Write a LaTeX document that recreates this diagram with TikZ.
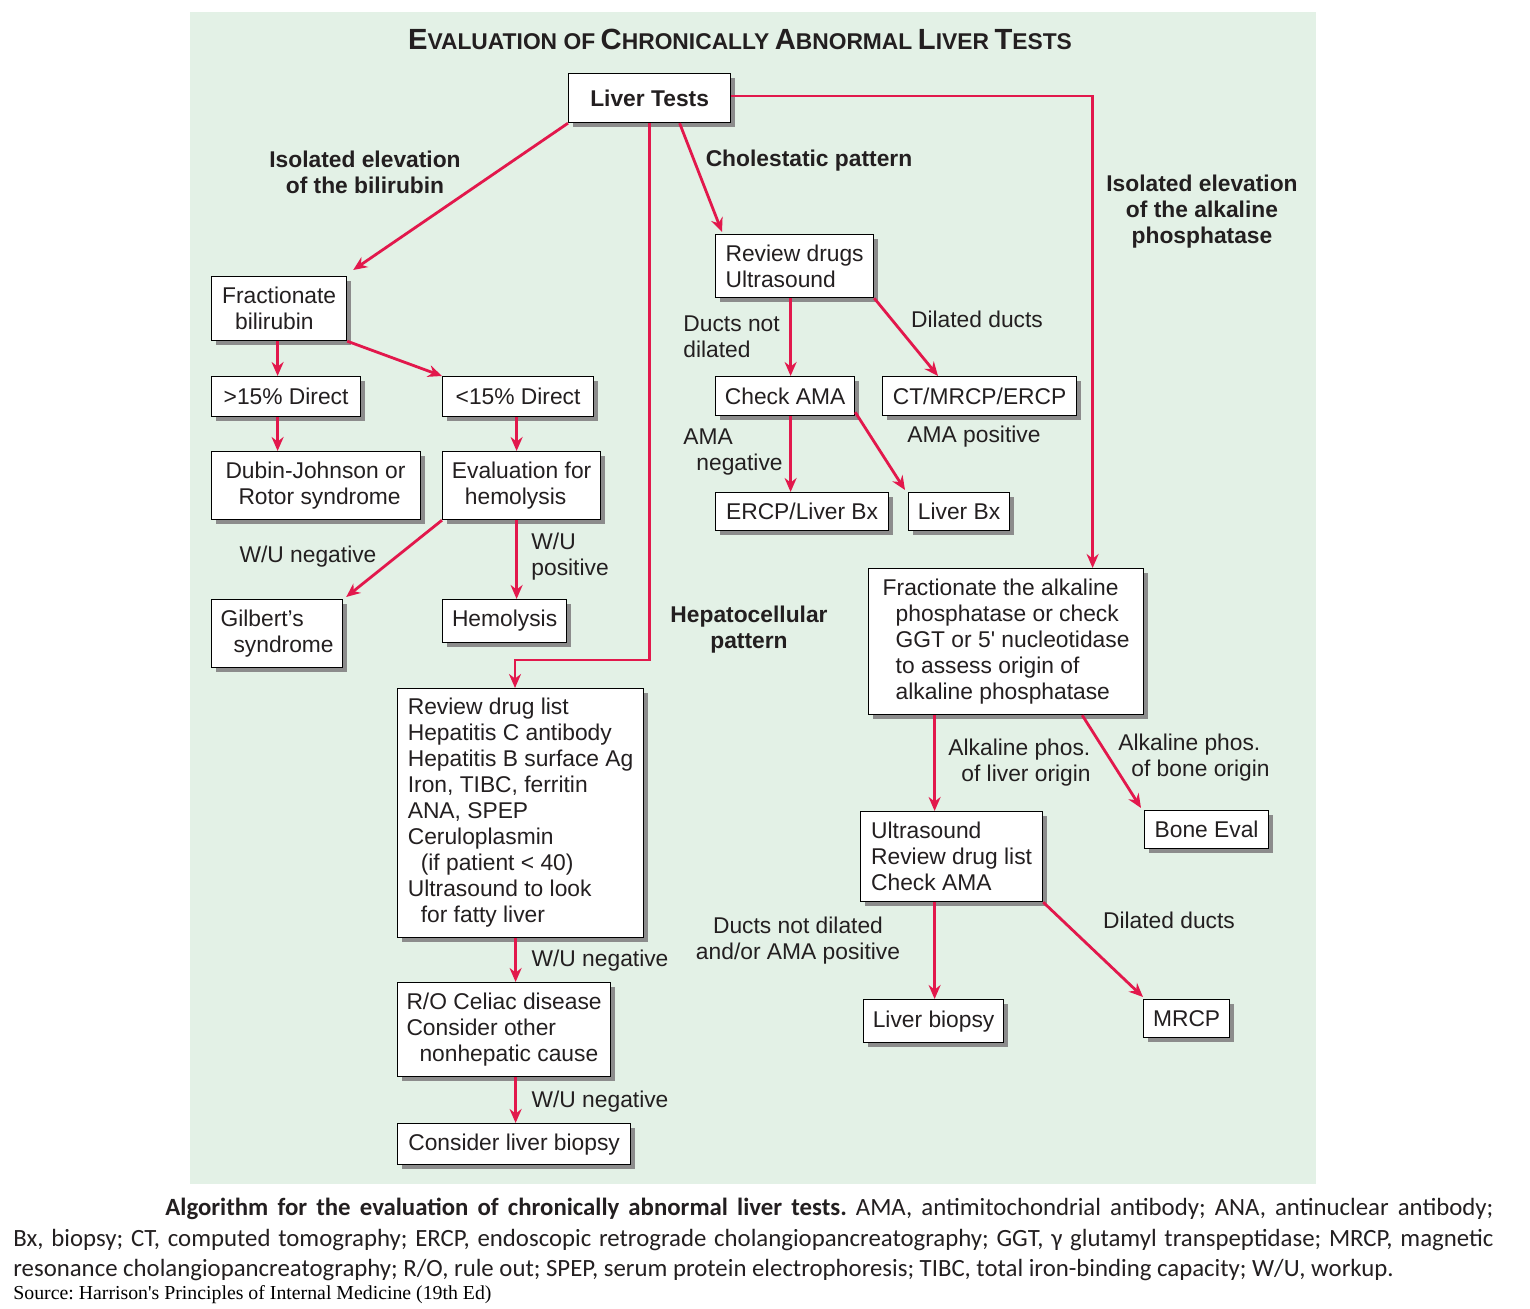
\documentclass[tikz,border=0pt]{standalone}
\usepackage{fontspec}
\setmainfont{Liberation Sans}
\newfontfamily\capfont{Carlito}
\newfontfamily\srcfont{Liberation Serif}
\usepackage{tikz}
\usetikzlibrary{arrows.meta, shadows, positioning}
\definecolor{bggreen}{RGB}{227,241,230}
\definecolor{arrowred}{RGB}{226,24,76}
\definecolor{inkblack}{RGB}{35,31,32}
\frenchspacing
\newcommand{\txtsize}{\fontsize{11.4}{13}\selectfont}
\newcommand{\ind}{\hspace*{6.5pt}}
\newcommand{\ttlword}[2]{{\fontsize{14.6}{15}\selectfont #1}{\fontsize{11.4}{15}\selectfont #2}}
\tikzstyle{box} = [draw=black, line width=0.6pt, fill=white, anchor=north west, align=left, inner sep=0pt, text=inkblack, font=\txtsize, drop shadow={shadow xshift=2pt, shadow yshift=-2pt, fill=black!45, opacity=1}]
\tikzstyle{arrow} = [line width=1.4pt, draw=arrowred, ->, >={Stealth[length=7pt,width=6pt]}]
\tikzstyle{lbl} = [inner sep=0pt, align=center, text=inkblack, font=\txtsize]
\tikzstyle{blbl} = [lbl, font=\txtsize\bfseries]

\begin{document}
\begin{tikzpicture}[x=0.5pt, y=-0.5pt]
\useasboundingbox (0,0) rectangle (1530,1309);
\fill[bggreen] (190,12) rectangle (1316,1184);

% title
\node[lbl, font=\bfseries] (title) at (740,39) {\ttlword{E}{VALUATION OF} \ttlword{C}{HRONICALLY} \ttlword{A}{BNORMAL} \ttlword{L}{IVER} \ttlword{T}{ESTS}};

% boxes
\node[box, minimum width=81pt, minimum height=24.5pt, font=\txtsize\bfseries] (lt) at (568,73) {Liver Tests};
\node[box, minimum width=67.5pt, minimum height=32pt] (fb) at (211,276) {Fractionate\\\ind bilirubin};
\node[box, minimum width=74.5pt, minimum height=20pt] (gt) at (211,376) {>15\% Direct};
\node[box, minimum width=75.5pt, minimum height=20pt] (lt15) at (442,376) {<15\% Direct};
\node[box, minimum width=104.5pt, minimum height=34pt] (dj) at (211,451) {Dubin-Johnson or\\\ind Rotor syndrome\hspace*{3pt}};
\node[box, minimum width=79pt, minimum height=34pt] (eh) at (442,451) {Evaluation for\\\ind hemolysis};
\node[box, minimum width=65.5pt, minimum height=34pt] (gs) at (211,599) {Gilbert's\\\ind syndrome};
\node[box, minimum width=62pt, minimum height=21.5pt] (hm) at (442,599) {Hemolysis};
\node[box, minimum width=79pt, minimum height=31.5pt] (rd) at (715,234) {Review drugs\\Ultrasound};
\node[box, minimum width=69.5pt, minimum height=19.5pt] (ca) at (715,376) {Check AMA};
\node[box, minimum width=97pt, minimum height=19.5pt] (ct) at (882,376) {CT/MRCP/ERCP};
\node[box, minimum width=86.5pt, minimum height=19pt] (el) at (715,492) {ERCP/Liver Bx};
\node[box, minimum width=50.5pt, minimum height=19pt] (lb) at (908,492) {Liver Bx};
\node[box, minimum width=137.5pt, minimum height=73pt] (fa) at (868,568) {Fractionate the alkaline\\\ind phosphatase or check\\\ind GGT or 5\textquotesingle{} nucleotidase\\\ind to assess origin of\\\ind alkaline phosphatase};
\node[box, minimum width=91pt, minimum height=45pt] (us) at (860,811) {Ultrasound\\Review drug list\\Check AMA};
\node[box, minimum width=62pt, minimum height=19pt] (be) at (1144,810) {Bone Eval};
\node[box, minimum width=70pt, minimum height=21.5pt] (lbi) at (863,999) {Liver biopsy};
\node[box, minimum width=43pt, minimum height=19pt] (mr) at (1143,999) {MRCP};
\node[box, minimum width=123pt, minimum height=124.5pt] (rdl) at (397,688) {Review drug list\\Hepatitis C antibody\\Hepatitis B surface Ag\\Iron, TIBC, ferritin\\ANA, SPEP\\Ceruloplasmin\\\ind (if patient < 40)\\Ultrasound to look\\\ind for fatty liver};
\node[box, minimum width=106.5pt, minimum height=47pt] (ro) at (397,982) {R/O Celiac disease\\Consider other\\\ind nonhepatic cause};
\node[box, minimum width=116.5pt, minimum height=20.5pt] (clb) at (397,1123) {Consider liver biopsy};

% connectors
\coordinate (hbend) at (515,660);
\draw[arrow] (lt.south west) -- ([xshift=3pt,yshift=3pt]fb.north east);
\draw[arrow] (lt.south) |- (hbend) -- (hbend |- rdl.north);
\draw[arrow] ([xshift=15pt]lt.south) -- ([xshift=3.5pt,yshift=1pt]rd.north west);
\draw[arrow] ([yshift=1pt]lt.east) -| ([xshift=43.25pt]fa.north);
\draw[arrow] ([xshift=-0.75pt]fb.south) -- ([xshift=-0.75pt]fb.south |- gt.north);
\draw[arrow] (fb.south east) -- (lt15.north west);
\draw[arrow] ([xshift=-4.25pt]gt.south) -- ([xshift=-4.25pt]gt.south |- dj.north);
\draw[arrow] ([xshift=-0.75pt]lt15.south) -- ([xshift=-0.75pt]lt15.south |- eh.north);
\draw[arrow] (eh.south west) -- ([xshift=1.5pt,yshift=1pt]gs.north east);
\draw[arrow] ([xshift=-2.5pt]eh.south) -- ([xshift=-2.5pt]eh.south |- hm.north);
\draw[arrow] ([xshift=-2pt]rd.south) -- ([xshift=-2pt]rd.south |- ca.north);
\draw[arrow] (rd.south east) -- ([xshift=28pt]ct.north west);
\draw[arrow] ([xshift=2.75pt]ca.south) -- ([xshift=2.75pt]ca.south |- el.north);
\draw[arrow] ([yshift=2pt]ca.south east) -- ([xshift=-1.5pt,yshift=1pt]lb.north west);
\draw[arrow] ([xshift=-35.75pt]fa.south) -- ([xshift=-35.75pt]fa.south |- us.north);
\draw[arrow] ([xshift=-31pt]fa.south east) -- ([xshift=-1.5pt,yshift=1pt]be.north west);
\draw[arrow] ([xshift=-8.5pt]us.south) -- ([xshift=-8.5pt]us.south |- lbi.north);
\draw[arrow] (us.south east) -- ([yshift=1pt]mr.north west);
\draw[arrow] ([xshift=-2.5pt]rdl.south) -- ([xshift=-2.5pt]rdl.south |- ro.north);
\draw[arrow] ([xshift=-2.5pt]rdl.south |- ro.south) -- ([xshift=-2.5pt]rdl.south |- clb.north);

% labels
\node[blbl] (isob) at (365,172) {Isolated elevation\\of the bilirubin};
\node[blbl] (chol) at (809,161) {Cholestatic pattern};
\node[blbl] (isoa) at (1202,212) {Isolated elevation\\of the alkaline\\phosphatase};
\node[blbl] (hepa) at (749,630) {Hepatocellular\\pattern};
\node[lbl, anchor=west, align=left] (dnd) at (683,337) {Ducts not\\dilated};
\node[lbl] (dd1) at (977,319) {Dilated ducts};
\node[lbl, anchor=west, align=left] (amaneg) at (683,452) {AMA\\\ind negative};
\node[lbl] (amapos) at (974,437) {AMA positive};
\node[lbl] (wun1) at (308,557) {W/U negative};
\node[lbl, anchor=west, align=left] (wup) at (531,557) {W/U\\positive};
\node[lbl, anchor=west, align=left] (alkl) at (948,763) {Alkaline phos.\\\ind of liver origin};
\node[lbl, anchor=west, align=left] (alkb) at (1118,758) {Alkaline phos.\\\ind of bone origin};
\node[lbl] (dndo) at (798,941) {Ducts not dilated\\and/or AMA positive};
\node[lbl] (dd2) at (1169,920) {Dilated ducts};
\node[lbl] (wun2) at (600,961) {W/U negative};
\node[lbl] (wun3) at (600,1102) {W/U negative};

% caption
\node[anchor=north west, text width=740pt, align=justify, inner sep=0pt, text=inkblack, font=\capfont\fontsize{12.4}{15.25}\selectfont] (cap) at (13,1198) {\hspace*{76pt}\textbf{Algorithm for the evaluation of chronically abnormal liver tests.} AMA, antimitochondrial antibody; ANA, antinuclear antibody;\linebreak Bx, biopsy; CT, computed tomography; ERCP, endoscopic retrograde cholangiopancreatography; GGT, γ glutamyl transpeptidase; MRCP, magnetic\linebreak resonance cholangiopancreatography; R/O, rule out; SPEP, serum protein electrophoresis; TIBC, total iron-binding capacity; W/U, workup.};
\node[anchor=west, inner sep=0pt, font=\srcfont\fontsize{9.9}{11}\selectfont] (src) at (13,1295) {Source: Harrison\textquotesingle{}s Principles of Internal Medicine (19th Ed)};
\end{tikzpicture}
\end{document}
